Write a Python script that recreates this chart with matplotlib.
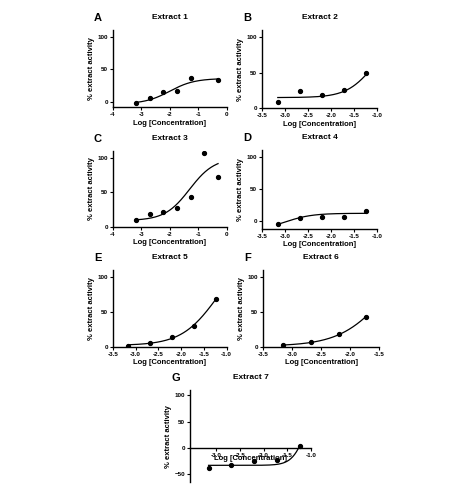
import numpy as np
import matplotlib.pyplot as plt

plt.rcParams["font.family"] = ["Liberation Sans", "DejaVu Sans"]
plt.rcParams["font.weight"] = "bold"

# measured points
x1 = [-3.18, -2.70, -2.22, -1.74, -1.26, -0.30]
y1 = [-2, 6, 15, 17, 36, 33]
x2 = [-3.16, -2.68, -2.20, -1.72, -1.24]
y2 = [9, 24, 18, 25, 50]
x3 = [-3.18, -2.70, -2.22, -1.74, -1.26, -0.78, -0.30]
y3 = [10, 18, 21, 28, 43, 107, 72]
x4 = [-3.16, -2.68, -2.20, -1.72, -1.24]
y4 = [-5, 5, 7, 6, 15]
x5 = [-3.16, -2.68, -2.20, -1.72, -1.24]
y5 = [1, 5, 14, 29, 68]
x6 = [-3.16, -2.68, -2.20, -1.72]
y6 = [3, 7, 19, 42]
x7 = [-3.16, -2.68, -2.20, -1.72, -1.24]
y7 = [-38, -33, -25, -23, 3]

# fitted curve parameters: bottom, top, logEC50, hill
fits = [(-3, 36, -2.0, 1.0), (15, 100, -1.1, 1.5), (9, 100, -1.3, 1.0),
        (-15, 12, -3.0, 1.5), (2, 140, -1.2, 1.1), (1, 140, -1.4, 1.1),
        (-33, 100, -1.1, 3.0)]

panels = [
    ("A", "Extract 1", x1, y1, (0.238, 0.782, 0.240, 0.157), (-4, 0), (-8, 110), [-4, -3, -2, -1, 0], "%d"),
    ("B", "Extract 2", x2, y2, (0.553, 0.780, 0.243, 0.159), (-3.5, -1.0), (0, 110), np.arange(-3.5, -0.9, 0.5), "%.1f"),
    ("C", "Extract 3", x3, y3, (0.238, 0.539, 0.240, 0.154), (-4, 0), (0, 110), [-4, -3, -2, -1, 0], "%d"),
    ("D", "Extract 4", x4, y4, (0.553, 0.535, 0.243, 0.160), (-3.5, -1.0), (-12, 110), np.arange(-3.5, -0.9, 0.5), "%.1f"),
    ("E", "Extract 5", x5, y5, (0.238, 0.295, 0.240, 0.157), (-3.5, -1.0), (0, 110), np.arange(-3.5, -0.9, 0.5), "%.1f"),
    ("F", "Extract 6", x6, y6, (0.555, 0.295, 0.245, 0.157), (-3.5, -1.5), (0, 110), np.arange(-3.5, -1.4, 0.5), "%.1f"),
    ("G", "Extract 7", x7, y7, (0.401, 0.020, 0.255, 0.187), (-3.55, -1.0), (-65, 110), np.arange(-3.0, -0.9, 0.5), "%.1f"),
]

fig = plt.figure(figsize=(4.74, 4.92), dpi=100)
for (letter, title, xs, ys, pos, xl, yl, xt, fmt), (b, t, ec, h) in zip(panels, fits):
    ax = fig.add_axes(pos)
    xc = np.linspace(min(xs), max(xs), 200)
    yc = b + (t - b) / (1 + 10 ** (h * (ec - xc)))
    ax.plot(xc, yc, color="black", lw=0.9)
    ax.plot(xs, ys, "o", color="black", ms=2.8)
    ax.set_xlim(xl)
    ax.set_ylim(yl)
    ax.set_xticks(xt)
    ax.set_xticklabels([fmt % v for v in xt])
    ax.set_yticks([0, 50, 100] if letter != "G" else [-50, 0, 50, 100])
    for s in ["top", "right"]:
        ax.spines[s].set_visible(False)
    for s in ["left", "bottom"]:
        ax.spines[s].set_linewidth(1.0)
    if letter == "G":
        ax.spines["bottom"].set_position(("data", 0))
    ax.tick_params(labelsize=4.5, length=2.5, width=0.8, pad=1)
    ax.set_title(title, fontsize=6, fontweight="bold", pad=8)
    ax.set_xlabel("Log [Concentration]", fontsize=5.5, fontweight="bold", labelpad=2)
    ax.set_ylabel("% extract activity", fontsize=5.5, fontweight="bold", labelpad=2)
    if letter == "G":
        ax.xaxis.set_label_coords(0.5, 0.29)
    fig.text(pos[0] - 0.04, pos[1] + pos[3] + 0.018, letter, fontsize=8, fontweight="bold")

fig.savefig("out.png", dpi=100, facecolor="white")
